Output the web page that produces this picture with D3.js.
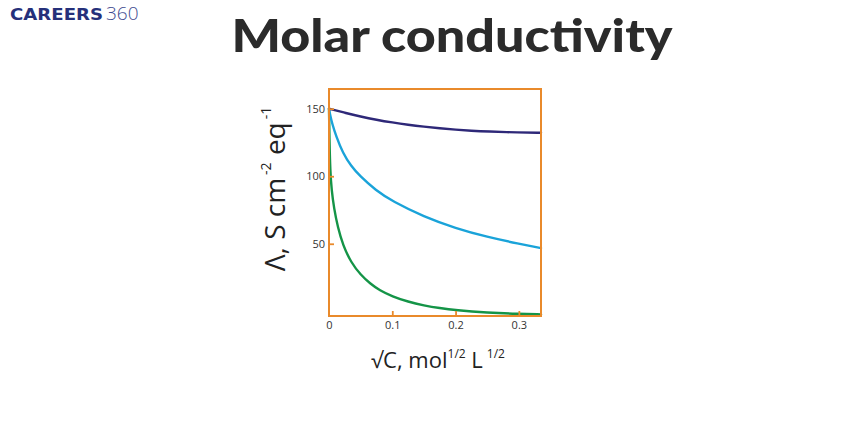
<!DOCTYPE html>
<html><head><meta charset="utf-8">
<script src="https://cdn.jsdelivr.net/npm/d3@7"></script>
<style>body{margin:0;background:#fff}svg{display:block}</style>
</head><body>
<script>
const xTicks = [0, 0.1, 0.2, 0.3];
const xTickLabels = ["0", "0.1", "0.2", "0.3"];
const yTicks = [50, 100, 150];
const yTickLabels = ["50", "100", "150"];

const darkX = [0, 0.025, 0.05, 0.075, 0.1, 0.125, 0.15, 0.175, 0.2, 0.225, 0.25, 0.3, 0.335];
const darkY = [150, 147, 144.2, 141.8, 139.8, 138.1, 136.7, 135.5, 134.5, 133.7, 133.1, 132.4, 132.2];

const lightX = [0, 0.002, 0.005, 0.011, 0.022, 0.035, 0.048, 0.074, 0.1, 0.15, 0.2, 0.25, 0.3, 0.335];
const lightY = [150, 145, 139, 130, 117, 107.5, 100.5, 89.5, 81.5, 70, 61.5, 55, 50, 46.8];

const greenX = [0, 0.0008, 0.002, 0.004, 0.008, 0.014, 0.022, 0.035, 0.05, 0.065, 0.08, 0.1, 0.125, 0.15, 0.175, 0.2, 0.25, 0.3, 0.335];
const greenY = [150, 125, 104, 90, 76, 62, 49, 36, 27, 20.5, 15.5, 11, 7, 4.3, 2.3, 0.8, -1, -2, -2.3];

const W = 860, H = 430;
const svg = d3.select("body").append("svg").attr("width", W).attr("height", H);

const x = d3.scaleLinear().domain([0, 0.335]).range([329, 541]);
const y = d3.scaleLinear().domain([-3.5, 164.6]).range([316, 89]);

const orange = "#E98A2B";

// logo
const logo = svg.append("text").attr("x", 10).attr("y", 20)
  .style("font-family", "'DejaVu Sans', sans-serif").style("font-size", "15px");
logo.append("tspan").text("CAREERS").attr("fill", "#25307a").style("font-weight", "bold")
  .attr("textLength", 93).attr("lengthAdjust", "spacingAndGlyphs");
logo.append("tspan").text("360").attr("fill", "#3f4b90").style("font-weight", "300")
  .attr("dx", 3).style("font-family", "'Open Sans', sans-serif").style("font-size", "19px");

// title
svg.append("text").attr("x", 452).attr("y", 52).attr("text-anchor", "middle")
  .attr("fill", "#2b2b2b")
  .style("font-family", "Lato, sans-serif").style("font-weight", "900").style("font-size", "46px")
  .attr("textLength", 441).attr("lengthAdjust", "spacingAndGlyphs")
  .text("Molar conductivity");

// curves
const line = d3.line().x(d => x(d[0])).y(d => y(d[1])).curve(d3.curveBasis);
const series = [
  {xs: greenX, ys: greenY, color: "#149447"},
  {xs: lightX, ys: lightY, color: "#1AA3D9"},
  {xs: darkX, ys: darkY, color: "#2E2878"}
];
series.forEach(s => {
  svg.append("path").datum(s.xs.map((v, i) => [v, s.ys[i]]))
    .attr("d", line).attr("fill", "none").attr("stroke", s.color)
    .attr("stroke-width", 2.4).attr("stroke-linecap", "round");
});

// axes
const xAxis = svg.append("g").attr("transform", `translate(0,${y.range()[0]})`)
  .call(d3.axisBottom(x).tickValues(xTicks).tickFormat((d, i) => xTickLabels[i]).tickSize(-5).tickPadding(5));
const yAxis = svg.append("g").attr("transform", `translate(${x.range()[0]},0)`)
  .call(d3.axisLeft(y).tickValues(yTicks).tickFormat((d, i) => yTickLabels[i]).tickSize(-5).tickPadding(4));
[xAxis, yAxis].forEach(g => {
  g.select(".domain").remove();
  g.selectAll(".tick line").attr("stroke", orange).attr("stroke-width", 1.8);
  g.selectAll(".tick text").attr("fill", "#333")
    .style("font-family", "'Open Sans', sans-serif").style("font-size", "11px");
});
xAxis.selectAll(".tick").filter(d => d === 0).select("line").remove();

// frame
svg.append("rect").attr("x", x.range()[0]).attr("y", y.range()[1])
  .attr("width", x.range()[1] - x.range()[0]).attr("height", y.range()[0] - y.range()[1])
  .attr("fill", "none").attr("stroke", orange).attr("stroke-width", 2);

// y label
const yl = svg.append("text").attr("transform", "translate(285,189) rotate(-90)")
  .attr("text-anchor", "middle").attr("fill", "#222")
  .style("font-family", "'Open Sans', sans-serif").style("font-size", "28px");
yl.append("tspan").text("Λ, S cm");
yl.append("tspan").text("-2").style("font-size", "14px").attr("dy", -14).attr("dx", 3);
yl.append("tspan").text(" eq").attr("dy", 14);
yl.append("tspan").text("-1").style("font-size", "14px").attr("dy", -14).attr("dx", 3);

// x label
const xl = svg.append("text").attr("x", 438).attr("y", 368)
  .attr("text-anchor", "middle").attr("fill", "#222")
  .style("font-family", "'Open Sans', sans-serif").style("font-size", "22px");
xl.append("tspan").text("√C, mol");
xl.append("tspan").text("1/2").style("font-size", "12px").attr("dy", -10);
xl.append("tspan").text(" L").attr("dy", 10);
xl.append("tspan").text("1/2").style("font-size", "12px").attr("dy", -10).attr("dx", 4);
</script>
</body></html>
